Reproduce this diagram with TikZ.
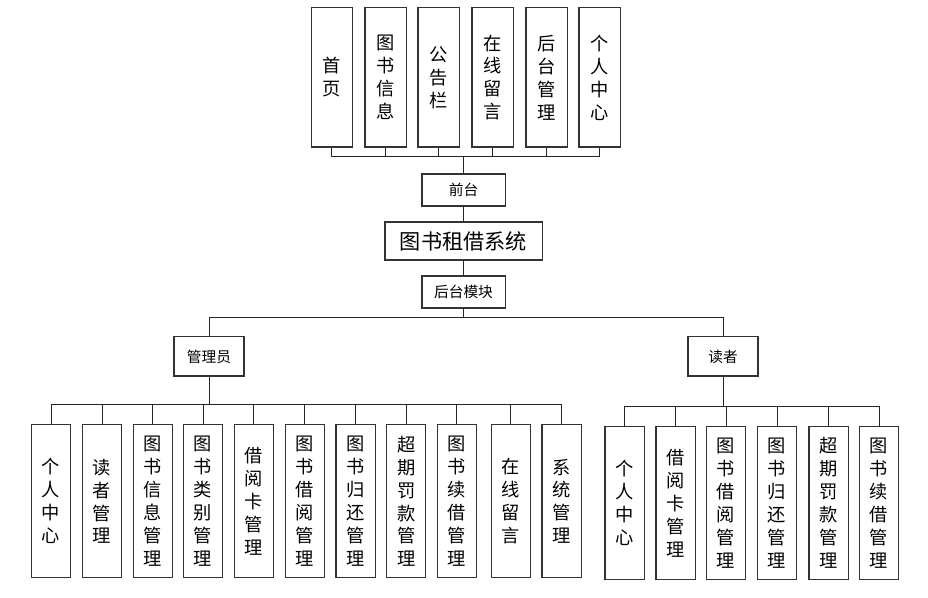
\documentclass[tikz,border=0pt]{standalone}
\usepackage{fontspec}
\newfontfamily\cjk{Noto Sans CJK SC}

\begin{document}
\begin{tikzpicture}[x=0.85pt, y=-0.85pt,
    box/.style={draw=black!80, line width=0.9pt, fill=white, inner sep=0pt,
      align=center, font=\cjk\fontsize{15.5}{19.5}\selectfont},
    topbox/.style={box, minimum width=34.9pt, minimum height=118.2pt},
    leafbox/.style={box, minimum width=33.2pt, minimum height=129.8pt},
    headbox/.style={box, minimum width=70.6pt, minimum height=27.2pt,
      font=\cjk\fontsize{12.5}{15}\selectfont},
    rolebox/.style={box, minimum width=59.5pt, minimum height=33.2pt,
      font=\cjk\fontsize{12.5}{15}\selectfont},
    link/.style={draw=black!85, line width=0.8pt}]
    \useasboundingbox (0,0) rectangle (928,598);

    % front pages
    \foreach \x/\t [count=\i] in {331.8/{首\\页}, 385.5/{图\\书\\信\\息},
        438.5/{公\\告\\栏}, 492.5/{在\\线\\留\\言}, 546.5/{后\\台\\管\\理},
        599.5/{个\\人\\中\\心}}
        \node[topbox] (top\i) at (\x,77.5) {\t};

    \node[headbox] (qt) at (463.5,190) {前台};
    \node[box, minimum width=133.5pt, minimum height=32.3pt,
        font=\cjk\fontsize{18}{22}\selectfont] (sys) at (463.5,241) {图书租借系统};
    \node[headbox] (hm) at (463.5,292) {后台模块};

    \node[rolebox] (gly) at (209,356.5) {管理员};
    \node[rolebox] (dz) at (723,356.5) {读者};

    % admin functions
    \foreach \x/\t [count=\i] in {51/{个\\人\\中\\心}, 102/{读\\者\\管\\理},
        152.8/{图\\书\\信\\息\\管\\理}, 203/{图\\书\\类\\别\\管\\理},
        253.7/{借\\阅\\卡\\管\\理}, 304.7/{图\\书\\借\\阅\\管\\理},
        355.5/{图\\书\\归\\还\\管\\理}, 406.2/{超\\期\\罚\\款\\管\\理},
        456.7/{图\\书\\续\\借\\管\\理}, 510.8/{在\\线\\留\\言},
        561.5/{系\\统\\管\\理}}
        \node[leafbox] (a\i) at (\x,501.3) {\t};

    % reader functions
    \foreach \x/\t [count=\i] in {624.5/{个\\人\\中\\心}, 675.5/{借\\阅\\卡\\管\\理},
        726/{图\\书\\借\\阅\\管\\理}, 777/{图\\书\\归\\还\\管\\理},
        828.5/{超\\期\\罚\\款\\管\\理}, 879/{图\\书\\续\\借\\管\\理}}
        \node[leafbox] (b\i) at (\x,503) {\t};

    % connectors
    \foreach \i in {1,...,6}
        \draw[link] (top\i.south) -- ++(0,9) -| (qt.north);
    \draw[link] (qt) -- (sys);
    \draw[link] (sys) -- (hm);
    \draw[link] (hm.south) -- ++(0,9) -| (gly.north);
    \draw[link] (hm.south) -- ++(0,9) -| (dz.north);
    \foreach \i in {1,...,11}
        \draw[link] (a\i.north) -- ++(0,-19.5) -| (gly.south);
    \foreach \i in {1,...,6}
        \draw[link] (b\i.north) -- ++(0,-20) -| (dz.south);
\end{tikzpicture}
\end{document}
